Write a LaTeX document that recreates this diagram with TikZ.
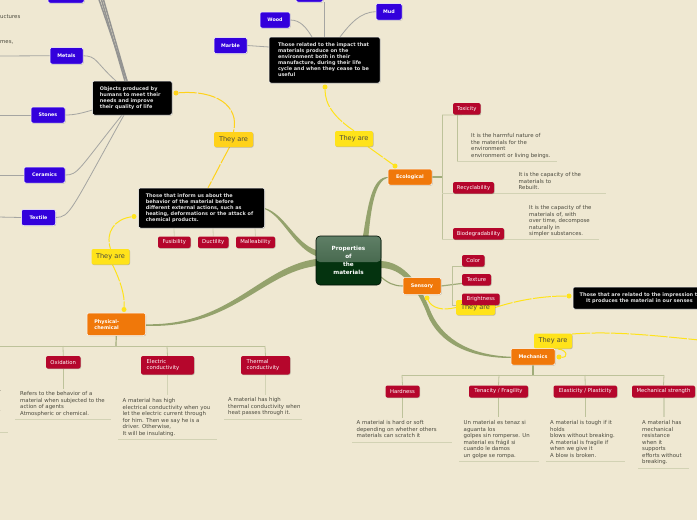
\documentclass[tikz,border=0pt]{standalone}
\usepackage{fontspec}
\setmainfont{DejaVu Sans}
\usetikzlibrary{shadows,calc}
\pgfdeclarelayer{back}
\pgfdeclarelayer{bgfill}
\pgfsetlayers{bgfill,back,main}
\definecolor{bgc}{HTML}{EFE8D2}
\definecolor{bluec}{HTML}{3300DC}
\definecolor{orangec}{HTML}{F0780A}
\definecolor{redc}{HTML}{B5062C}
\definecolor{greyl}{HTML}{A5A5A2}
\definecolor{greenl}{HTML}{94A26C}
\definecolor{palel}{HTML}{BDC29A}
\definecolor{palem}{HTML}{D2D2B4}
\definecolor{txt}{HTML}{4B4A3E}
\definecolor{golds}{HTML}{FFD21A}
\definecolor{yell}{HTML}{FFE31A}
\definecolor{ctop}{HTML}{5F7F66}
\definecolor{cmid}{HTML}{35583C}
\definecolor{cbot}{HTML}{04330F}
\tikzset{
  softshadow/.style={drop shadow={shadow xshift=.6pt,shadow yshift=-.6pt,opacity=.22,fill=black}},
  boxbase/.style={rounded corners=2pt,inner sep=0pt,align=center,softshadow},
  bluebox/.style={boxbase,fill=bluec,draw=white,line width=.5pt,text=white,font=\fontsize{4.8}{5.6}\selectfont\bfseries},
  blackbox/.style={boxbase,fill=black,draw=white,line width=.5pt,text=black!12,font=\fontsize{4.95}{6}\selectfont\bfseries},
  orangebox/.style={boxbase,fill=orangec,draw=white,line width=.5pt,text=white,font=\fontsize{4.9}{6}\selectfont\bfseries},
  redbox/.style={boxbase,fill=redc,text=white,font=\fontsize{5.3}{6}\selectfont},
  goldbox/.style={boxbase,fill=golds,text=txt,font=\fontsize{6.6}{8}\selectfont},
  yellbox/.style={boxbase,fill=yell,text=txt,font=\fontsize{6.6}{8}\selectfont},
  note/.style={anchor=north west,inner sep=0pt,align=left,text=txt,font=\fontsize{5.4}{6.45}\selectfont},
  greyline/.style={draw=greyl,line width=.8pt},
  greyheavy/.style={draw=greyl!90!black,line width=1.5pt},
  treeline/.style={draw=palel,line width=.8pt},
  treeheavy/.style={draw=greenl!70!palel,line width=1.2pt},
  underl/.style={draw=palem,line width=1pt},
  goldlink/.style={draw=golds,line width=1pt,dash pattern=on 18pt off 1.4pt},
  yelllink/.style={draw=yell,line width=1pt,dash pattern=on 18pt off 1.4pt},
  golddot/.style={circle,fill=golds,inner sep=0pt,minimum size=5pt},
  yelldot/.style={circle,fill=yell,inner sep=0pt,minimum size=5pt},
  branch/.style={fill=greenl,draw=none},
  centralbox/.style={rounded corners=4pt,inner sep=0pt,align=center,fill=cbot,draw=black!70!cbot,line width=.6pt,text=white,font=\fontsize{5.7}{8}\selectfont\bfseries},
}
% name, style, x1, y1, x2, y2, text
\newcommand{\bx}[7]{\node[#2,minimum width={(#5-#3)*1pt},minimum height={(#6-#4)*1pt}] (#1) at ({(#3+#5)/2},{(#4+#6)/2}) {#7};}
\begin{document}
\begin{tikzpicture}[x=1pt,y=-1pt]
\useasboundingbox (0,0) rectangle (697,520);
\begin{pgfonlayer}{bgfill}
\fill[bgc] (0,0) rectangle (697,520);
\end{pgfonlayer}

% ---------- free ends
\coordinate (tl1) at (98.5,-2);
\coordinate (tl2) at (103,-2);
\coordinate (tl3) at (101,-2);
\coordinate (lm) at (-2,56);
\coordinate (ls) at (-2,115);
\coordinate (lc) at (-2,175);
\coordinate (lt) at (-2,217);
\coordinate (offr) at (699,340);
\coordinate (pl) at (-2,346);

% ---------- central
\node[centralbox,minimum width=65pt,minimum height=49pt,
  path picture={\fill[top color=ctop,bottom color=cmid] (path picture bounding box.north west) rectangle ($(path picture bounding box.east)+(0,1.5)$);}]
  (central) at (348.5,260.5) {Properties\\of\\the\\materials};

% ---------- blue
\bx{btop}{bluebox}{48}{-12}{84}{3}{}
\bx{metals}{bluebox}{50}{47.5}{83}{64}{Metals}
\bx{stones}{bluebox}{31}{107}{65}{123}{Stones}
\bx{ceramics}{bluebox}{24}{167}{65}{183}{Ceramics}
\bx{textile}{bluebox}{21.5}{209.5}{55.5}{225.5}{Textile}
\bx{wood}{bluebox}{260}{12}{290}{28}{Wood}
\bx{marble}{bluebox}{214}{37.5}{247}{53.5}{Marble}
\bx{btop2}{bluebox}{296}{-12}{323}{2}{}
\bx{mud}{bluebox}{376}{3.5}{402}{20}{Mud}

% ---------- black
\bx{objects}{blackbox,align=left}{92.5}{81}{172}{115}{\hspace*{-4pt}Objects produced by\\\hspace*{-4pt}humans to meet their\\\hspace*{-4pt}needs and improve\\\hspace*{-4pt}their quality of life}
\bx{inform}{blackbox,align=left}{138.5}{188}{264.5}{228}{\hspace*{-4pt}Those that inform us about the\\\hspace*{-4pt}behavior of the material before\\\hspace*{-4pt}different external actions, such as\\\hspace*{-4pt}heating, deformations or the attack of\\\hspace*{-4pt}chemical products.}
\bx{impact}{blackbox,align=left}{269}{37}{380}{83}{\hspace*{-2pt}Those related to the impact that\\\hspace*{-2pt}materials produce on the\\\hspace*{-2pt}environment both in their\\\hspace*{-2pt}manufacture, during their life\\\hspace*{-2pt}cycle and when they cease to be\\\hspace*{-2pt}useful}
\bx{impress}{blackbox}{573}{287}{722}{309}{\hspace*{-18pt}Those that are related to the impression t\\\hspace*{-16pt}It produces the material in our senses}

% ---------- they are
\bx{they1}{goldbox}{214}{132}{253}{147}{They are}
\bx{they2}{yellbox}{335}{131}{373}{146.5}{They are}
\bx{they3}{yellbox}{91.5}{249}{129.5}{264.5}{They are}
\bx{they4}{yellbox}{456}{300}{495}{315}{They are}
\bx{they5}{yellbox}{534}{333.5}{572}{348.5}{They are}

% ---------- orange
\bx{eco}{orangebox}{388}{169}{432}{185}{Ecological}
\bx{sensory}{orangebox}{403}{277.5}{441}{294.5}{Sensory}
\bx{mech}{orangebox}{511}{348.5}{555}{365}{Mechanics}
\bx{phys}{orangebox,align=left}{87}{313}{145.5}{335.5}{\hspace*{-19pt}Physical-\\\hspace*{-19pt}chemical}

% ---------- red
\bx{toxicity}{redbox}{453}{103}{480.5}{114.5}{Toxicity}
\bx{recycl}{redbox}{453}{182}{494}{193.5}{Recyclability}
\bx{biodeg}{redbox}{453}{228}{504}{239.5}{Biodegradability}
\bx{color}{redbox}{462}{255}{484.5}{266.5}{Color}
\bx{texture}{redbox}{462}{274}{491}{285.5}{Texture}
\bx{bright}{redbox}{462}{293.5}{499.5}{305}{Brightness}
\bx{hard}{redbox}{385.5}{385.5}{419.5}{397.5}{Hardness}
\bx{tenac}{redbox}{469}{385.5}{528}{397.5}{Tenacity / Fragility}
\bx{elast}{redbox}{553.5}{385.5}{617}{397.5}{Elasticity / Plasticity}
\bx{mstr}{redbox}{632}{385.5}{695}{397.5}{Mechanical strength}
\bx{oxid}{redbox}{46}{356}{80.5}{368.5}{Oxidation}
\bx{elec}{redbox,align=left}{141}{356}{194}{374.5}{\hspace*{-9pt}Electric\\\hspace*{-9pt}conductivity}
\bx{therm}{redbox,align=left}{241}{356}{290}{374.5}{\hspace*{-5pt}Thermal\\\hspace*{-5pt}conductivity}
\bx{fusib}{redbox}{158}{236.5}{190.5}{248}{Fusibility}
\bx{duct}{redbox}{198}{236.5}{228.5}{248}{Ductility}
\bx{mall}{redbox}{236}{236.5}{275}{248}{Malleability}

% ---------- notes
\node[note] (ntox) at (471,133.5) {It is the harmful nature of\\the materials for the\\environment\\environment or living beings.};
\node[note] (nrec) at (518.5,172.5) {It is the capacity of the\\materials to\\Rebuilt.};
\node[note] (nbio) at (529,205.5) {It is the capacity of the\\materials of, with\\over time, decompose\\naturally in\\simpler substances.};
\node[note] (nhard) at (356.5,420.5) {A material is hard or soft\\depending on whether others\\materials can scratch it};
\node[note] (nten) at (463.5,420.5) {Un material es tenaz si\\aguanta los\\golpes sin romperse. Un\\material es frágil si\\cuando le damos\\un golpe se rompa.};
\node[note] (nela) at (550,420.5) {A material is tough if it\\holds\\blows without breaking.\\A material is fragile if\\when we give it\\A blow is broken.};
\node[note] (nmst) at (642,420.5) {A material has\\mechanical\\resistance\\when it\\supports\\efforts without\\breaking.};
\node[note] (noxi) at (20,391.5) {Refers to the behavior of a\\material when subjected to the\\action of agents\\Atmospheric or chemical.};
\node[note] (nele) at (122.5,398.5) {A material has high\\electrical conductivity when you\\let the electric current through\\for him. Then we say he is a\\driver. Otherwise,\\It will be insulating.};
\node[note] (nthe) at (228,397.5) {A material has high\\thermal conductivity when\\heat passes through it.};
\node[note] (frag1) at (0,14.5) {uctures};
\node[note] (frag2) at (0,40.5) {mes,};
\node[note] (frag3) at (-1,390.5) {-};
\node[note] (frag4) at (-1,410.5) {.};

% ---------- dots
\node[golddot] (d1) at (176,93) {};
\node[yelldot] (d2) at (325,87) {};
\node[yelldot] (d3) at (395,166) {};
\node[yelldot] (d4) at (134,216.5) {};
\node[yelldot] (d5) at (124,309.5) {};
\node[yelldot] (d6) at (427,298) {};
\node[yelldot] (d7) at (569,296) {};
\node[yelldot] (d8) at (559,357) {};

% ---------- underline coordinates
\coordinate (u1a) at (457,161); \coordinate (u1b) at (557,161);
\coordinate (u2a) at (442,193.5); \coordinate (u2b) at (606,193.5);
\coordinate (u3a) at (442,239.5); \coordinate (u3b) at (599,239.5);
\coordinate (u4a) at (352,442); \coordinate (u4b) at (452,442);
\coordinate (u5a) at (459,461); \coordinate (u5b) at (539,461);
\coordinate (u6a) at (546,461); \coordinate (u6b) at (625,461);
\coordinate (u7a) at (638,468); \coordinate (u7b) at (689,468);
\coordinate (u8a) at (15,419); \coordinate (u8b) at (111,419);
\coordinate (u9a) at (118,439); \coordinate (u9b) at (217,439);
\coordinate (u10a) at (224,419); \coordinate (u10b) at (302,419);
\coordinate (u11a) at (-2,432); \coordinate (u11b) at (8,432);
\coordinate (ex) at (442,177);
\coordinate (ey1) at (442,115); \coordinate (ey2) at (442,239.5);
\coordinate (sx) at (452,286);
\coordinate (sy1) at (452,266.5); \coordinate (sy2) at (452,305.5);
\coordinate (mj) at (533,375);
\coordinate (mjl) at (402,375); \coordinate (mjr) at (664,375);
\coordinate (pj) at (116,346);
\coordinate (pjr) at (265,346);

\begin{pgfonlayer}{back}
% main branches (tapered)
\fill[branch] (phys.east) .. controls (230,326) and (260,267) .. (316,259)
   -- (316,266) .. controls (262,273) and (232,329) .. (145.5,325.8) -- cycle;
\fill[branch] (inform.east) .. controls (285,214) and (295,243) .. (316,250)
   -- (316,256) .. controls (293,247) and (283,216) .. (264.5,209) -- cycle;
\fill[branch] (eco.west) .. controls (372,177) and (368,205) .. (363,236)
   -- (368.5,236) .. controls (371,208) and (375,181) .. (388,177.4) -- cycle;
\fill[branch] (381,261) .. controls (405,262) and (420,285) .. (430,310)
   .. controls (440,335) and (465,355) .. (mech.west)
   -- (511,358) .. controls (462,358) and (435,338) .. (426,311)
   .. controls (416,287) and (402,268) .. (381,268) -- cycle;
\draw[draw=greenl,line width=1.1pt] (381,277) .. controls (388,283) and (394,286) .. (sensory.west);

% grey connectors
\draw[greyheavy] (tl1) -- (127,81);
\draw[greyheavy] (tl2) -- (127,81);
\draw[greyheavy] (tl3) -- (125,81);
\draw[greyline] (metals.east) .. controls (97,56) and (95,62) .. (116,81);
\draw[greyline] (stones.east) .. controls (75,115) and (82,113) .. (92.5,110);
\draw[greyline] (ceramics.east) .. controls (78,175) and (78,170) .. (122,115);
\draw[greyline] (textile.east) .. controls (70,217) and (70,212) .. (124,115);
\draw[greyline] (metals.west) -- (lm);
\draw[greyline] (stones.west) -- (ls);
\draw[greyline] (ceramics.west) -- (lc);
\draw[greyline] (textile.west) -- (lt);
\draw[greyline] (marble.east) -- (269,47);
\draw[greyline] (wood.east) .. controls (300,20) and (306,27) .. (312,37);
\draw[greyline] (324,2) -- (324,37);
\draw[greyline] (mud.west) .. controls (360,12) and (350,24) .. (340,37);

% yellow links
\draw[goldlink] (d1) .. controls (215,90) and (240,105) .. (they1.north);
\draw[goldlink] (they1.south) ++(-4,0) -- ++(-8,15) -- (208,188);
\draw[yelllink] (d2) .. controls (325,105) and (335,118) .. (they2.north);
\draw[yelllink] (they2.south) ++(14,0) -- (d3);
\draw[yelllink] (d4) .. controls (115,219) and (105,232) .. (they3.north);
\draw[yelllink] (they3.south) ++(2,0) .. controls (120,280) and (125,295) .. (d5);
\draw[yelllink] (d6) .. controls (432,308) and (442,311) .. (they4.west);
\draw[yelllink] (they4.east) .. controls (515,301) and (540,296) .. (d7);
\draw[yelllink] (d8) .. controls (568,358) and (568,350) .. (558,349);
\draw[yelllink] (they5.east) ++(0,-7) .. controls (610,331) and (650,335) .. (offr);

% ecological tree
\draw[treeheavy] (eco.east) -- (ex);
\draw[treeline] (ey1) -- (ey2);
\draw[treeline] (ey1) -- (toxicity.south east);
\draw[treeline] (457,114.5) -- (u1a);
\draw[underl] (u1a) -- (u1b);
\draw[underl] (u2a) -- (u2b);
\draw[underl] (u3a) -- (u3b);
% sensory tree
\draw[treeheavy] (sensory.east) -- (texture.east);
\draw[treeline] (sy1) -- (sy2);
\draw[treeline] (sy1) -- (color.south east);
\draw[treeline] (sy2) -- (bright.south east);
% mechanics tree
\draw[treeheavy] (mech.south) -- (mj);
\draw[treeline] (mjl) -- (mjr);
\draw[treeline] (mjl) -- (hard.north);
\draw[treeline] (499,375) -- (tenac.north);
\draw[treeline] (585,375) -- (elast.north);
\draw[treeline] (mjr) -- (mstr.north);
\draw[treeline] (hard.south) -- ++(0,20);
\draw[treeline] (tenac.south) ++(0,0) -- (498.5,417);
\draw[treeline] (585,397.5) -- (585,417);
\draw[palem,line width=1.2pt] (664,397.5) -- (664,417);
\draw[underl] (u4a) -- (u4b);
\draw[underl] (u5a) -- (u5b);
\draw[underl] (u6a) -- (u6b);
\draw[underl] (u7a) -- (u7b);
% physical tree
\draw[treeheavy] (phys.south) -- (pj);
\draw[treeline] (pl) -- (pjr);
\draw[treeline] (63,346) -- (oxid.north);
\draw[treeline] (167,346) -- (elec.north);
\draw[treeline] (pjr) -- (therm.north);
\draw[treeline] (oxid.south) -- ++(0,20);
\draw[palem,line width=1.2pt] (elec.south) -- ++(0,20);
\draw[palem,line width=1pt] (therm.south) -- ++(0,20);
\draw[underl] (u8a) -- (u8b);
\draw[underl] (u9a) -- (u9b);
\draw[underl] (u10a) -- (u10b);
\draw[underl] (u11a) -- (u11b);
% informed children
\draw[palem,line width=.8pt] (174,228) -- (fusib.north);
\draw[palem,line width=.8pt] (213,228) -- (duct.north);
\draw[palem,line width=.8pt] (255,228) -- (mall.north);
\end{pgfonlayer}
\end{tikzpicture}
\end{document}
